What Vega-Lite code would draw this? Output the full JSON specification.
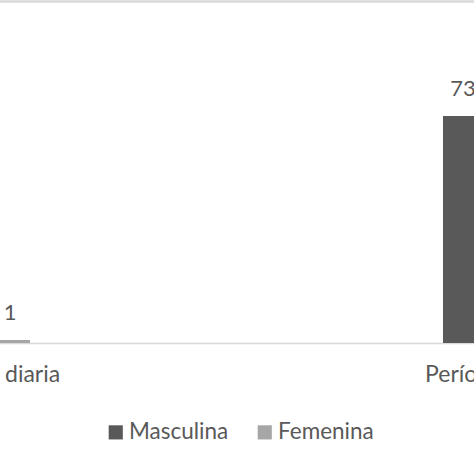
{
  "$schema": "https://vega.github.io/schema/vega-lite/v6.json",
  "autosize": {"type": "none"},
  "padding": {"left": -256.5, "top": 1, "right": -255.5, "bottom": 131},
  "width": 986,
  "height": 342,
  "background": "white",
  "config": {
    "view": {"stroke": null},
    "font": "Lato",
    "text": {"font": "Lato"}
  },
  "data": {
    "values": [
      {"Categoria": "Jornada diaria", "Sexo": "Masculina", "Valor": 2},
      {"Categoria": "Jornada diaria", "Sexo": "Femenina", "Valor": 1},
      {"Categoria": "Período fijo", "Sexo": "Masculina", "Valor": 73},
      {"Categoria": "Período fijo", "Sexo": "Femenina", "Valor": 20}
    ]
  },
  "encoding": {
    "xOffset": {
      "field": "Sexo",
      "type": "nominal",
      "sort": ["Masculina", "Femenina"],
      "scale": {"paddingInner": 0, "paddingOuter": 0}
    },
    "y": {
      "field": "Valor",
      "type": "quantitative",
      "scale": {"domain": [0, 110], "nice": false},
      "axis": null
    }
  },
  "layer": [
    {
      "mark": {"type": "bar"},
      "encoding": {
        "x": {
          "field": "Categoria",
          "type": "nominal",
          "sort": null,
          "title": null,
          "scale": {"paddingInner": 0.8377, "paddingOuter": 0.41886},
          "axis": {
            "domainColor": "#d9d9d9",
            "domainWidth": 1.5,
            "ticks": false,
            "labelAngle": 0,
            "labelFontSize": 23,
            "labelColor": "#595959",
            "labelPadding": 20,
            "labelFont": "Lato"
          }
        },
        "color": {
          "field": "Sexo",
          "type": "nominal",
          "sort": ["Masculina", "Femenina"],
          "scale": {"domain": ["Masculina", "Femenina"], "range": ["#595959", "#a6a6a6"]},
          "legend": {
            "title": null,
            "orient": "none",
            "legendX": 361,
            "legendY": 420,
            "direction": "horizontal",
            "symbolType": "square",
            "symbolSize": 200,
            "labelFontSize": 22.5,
            "labelColor": "#595959",
            "labelFont": "Lato",
            "labelOffset": 2,
            "columnPadding": 25
          }
        }
      }
    },
    {
      "mark": {"type": "text", "baseline": "alphabetic", "dy": -20, "fontSize": 22, "color": "#595959", "font": "Lato"},
      "encoding": {
        "x": {
          "field": "Categoria",
          "type": "nominal",
          "sort": null,
          "title": null,
          "axis": {
            "orient": "top",
            "labels": false,
            "ticks": false,
            "domainColor": "#d9d9d9",
            "domainWidth": 2.5
          }
        },
        "text": {"field": "Valor", "type": "quantitative"}
      }
    }
  ],
  "resolve": {"axis": {"x": "independent"}}
}
